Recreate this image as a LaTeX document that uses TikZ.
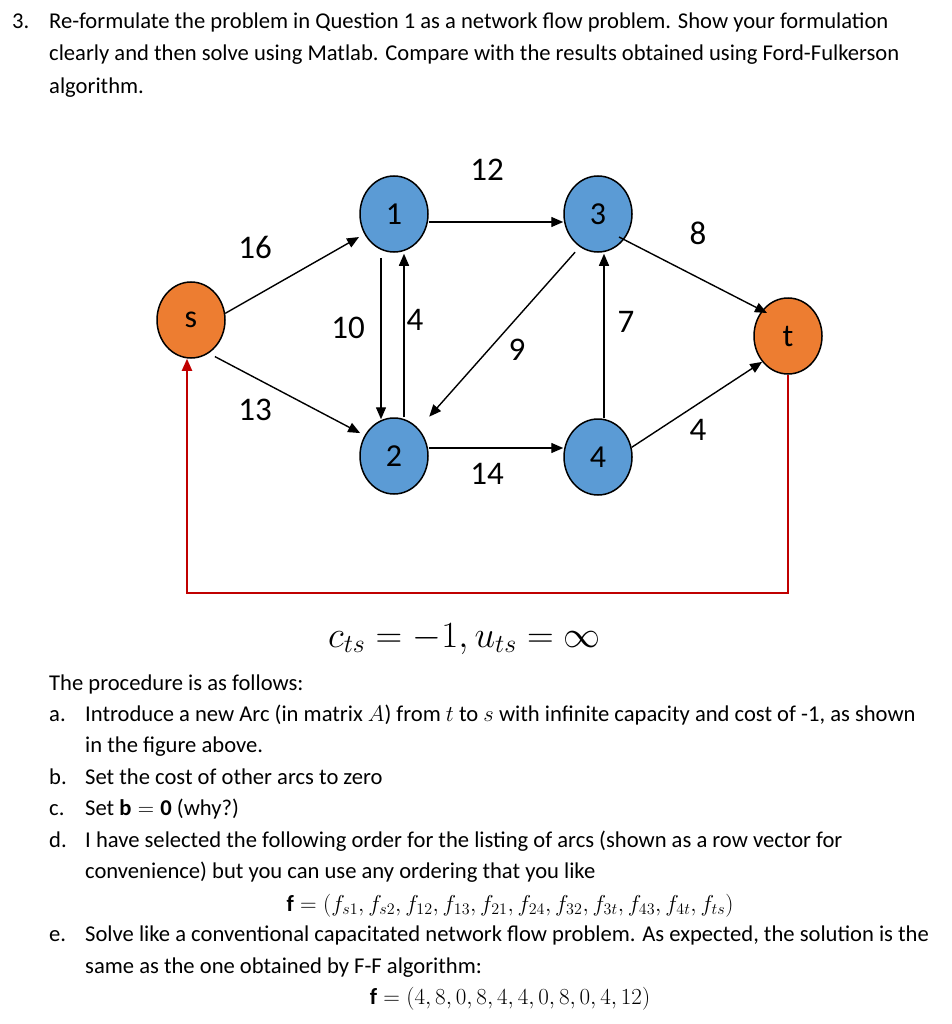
\RequirePackage{fix-cm}
\documentclass[tikz,border=0pt]{standalone}
\usepackage{fontspec}
\setmainfont{Carlito}
\usetikzlibrary{shapes.geometric,arrows.meta,calc}
\definecolor{nblue}{HTML}{5B9BD5}
\definecolor{norange}{HTML}{ED7D31}
\definecolor{arcred}{HTML}{C00000}
\tikzset{
  vtx/.style={ellipse, draw=black, line width=1.5pt, minimum width=68pt, minimum height=76pt, inner sep=0pt, font=\fontsize{32}{32}\selectfont},
  bluev/.style={vtx, fill=nblue},
  termv/.style={vtx, fill=norange},
  arc/.style={line width=1.4pt, -{Triangle[length=12pt,width=10pt]}},
  redarc/.style={line width=2pt, draw=arcred, -{Triangle[length=12pt,width=10pt]}},
  lbl/.style={inner sep=0pt, font=\fontsize{33}{33}\selectfont},
  txt/.style={anchor=base west, inner sep=0pt, font=\fontsize{22.6}{32}\selectfont},
  ctxt/.style={anchor=base, inner sep=0pt, font=\fontsize{23}{32}\selectfont},
}
\begin{document}
\begin{tikzpicture}[x=1pt,y=-1pt]
\useasboundingbox (0,0) rectangle (951,1024);
% vertices
\node[termv] (s) at (191,320) {s};
\node[bluev] (n1) at (394,214) {1};
\node[bluev] (n2) at (394,456) {2};
\node[bluev] (n3) at (598,214) {3};
\node[bluev] (n4) at (598,457) {4};
\node[termv] (t) at (788,336) {t};
% arcs
\draw[arc, shorten >=6pt] (s.11) -- (n1.214);
\draw[arc, shorten <=7pt, shorten >=5pt] (s.298) -- (n2.145);
\draw[arc, shorten <=5pt, shorten >=-2pt] ($(n1.south)+(-13,0)$) -- ($(n2.north)+(-13,0)$);
\draw[arc] ($(n2.north)+(10,0)$) -- ($(n1.south)+(10,1)$);
\draw[arc] ($(n1.east)+(0,8)$) -- ($(n3.west)+(0,8)$);
\draw[arc, shorten <=7pt, shorten >=16pt] (n3.241.7) -- (n2.48);
\draw[arc] ($(n2.east)+(0,-8)$) -- ($(n4.west)+(0,-9)$);
\draw[arc] ($(n4.north)+(6,0)$) -- ($(n3.south)+(6,1)$);
\draw[arc] ($(n3)+(21,23)$) -- ($(t)+(-21,-23)$);
\draw[arc] (n4.16) -- (t.225);
% return arc t -> s
\coordinate (rb) at (187,593);
\draw[redarc] (t.south) |- (rb) -- (rb |- s.south);
% arc labels
\node[lbl] (l16) at (255,247) {16};
\node[lbl] (l13) at (255,410) {13};
\node[lbl] (l10) at (348,328) {10};
\node[lbl] (l4a) at (415,320) {4};
\node[lbl] (l12) at (487,170) {12};
\node[lbl] (l9) at (517,350) {9};
\node[lbl] (l7) at (626,322) {7};
\node[lbl] (l8) at (698,233) {8};
\node[lbl] (l4b) at (698,430) {4};
\node[lbl] (l14) at (487,474) {14};
\node[anchor=base west, inner sep=0pt, font=\fontsize{37}{37}\selectfont] (form) at (328,647) {$c_{ts} = -1, u_{ts} = \infty$};
% text
\node[txt] (q3) at (12,29) {3.};
\node[txt] (q1) at (49,29) {Re-formulate the problem in Question 1 as a network flow problem. Show your formulation};
\node[txt] (q2) at (49,61) {clearly and then solve using Matlab. Compare with the results obtained using Ford-Fulkerson};
\node[txt] (q3b) at (49,94) {algorithm.};
\node[txt] (p0) at (49,690) {The procedure is as follows:};
\node[txt] (pa) at (49,721) {a.};
\node[txt] (pa1) at (85,721) {Introduce a new Arc (in matrix $A$) from $t$ to $s$ with infinite capacity and cost of -1, as shown};
\node[txt] (pa2) at (85,752) {in the figure above.};
\node[txt] (pb) at (49,784) {b.};
\node[txt] (pb1) at (85,784) {Set the cost of other arcs to zero};
\node[txt] (pc) at (49,815) {c.};
\node[txt] (pc1) at (85,815) {Set $\mathbf{b}=\mathbf{0}$ (why?)};
\node[txt] (pd) at (49,847) {d.};
\node[txt] (pd1) at (85,847) {I have selected the following order for the listing of arcs (shown as a row vector for};
\node[txt] (pd2) at (85,878) {convenience) but you can use any ordering that you like};
\node[ctxt] (fv) at (510,911) {$\mathbf{f}=(f_{s1}, f_{s2}, f_{12}, f_{13}, f_{21}, f_{24}, f_{32}, f_{3t}, f_{43}, f_{4t}, f_{ts})$};
\node[txt] (pe) at (49,941) {e.};
\node[txt] (pe1) at (85,941) {Solve like a conventional capacitated network flow problem. As expected, the solution is the};
\node[txt] (pe2) at (85,973) {same as the one obtained by F-F algorithm:};
\node[ctxt] (fs) at (510,1004) {$\mathbf{f}=(4,8,0,8,4,4,0,8,0,4,12)$};
\end{tikzpicture}
\end{document}
